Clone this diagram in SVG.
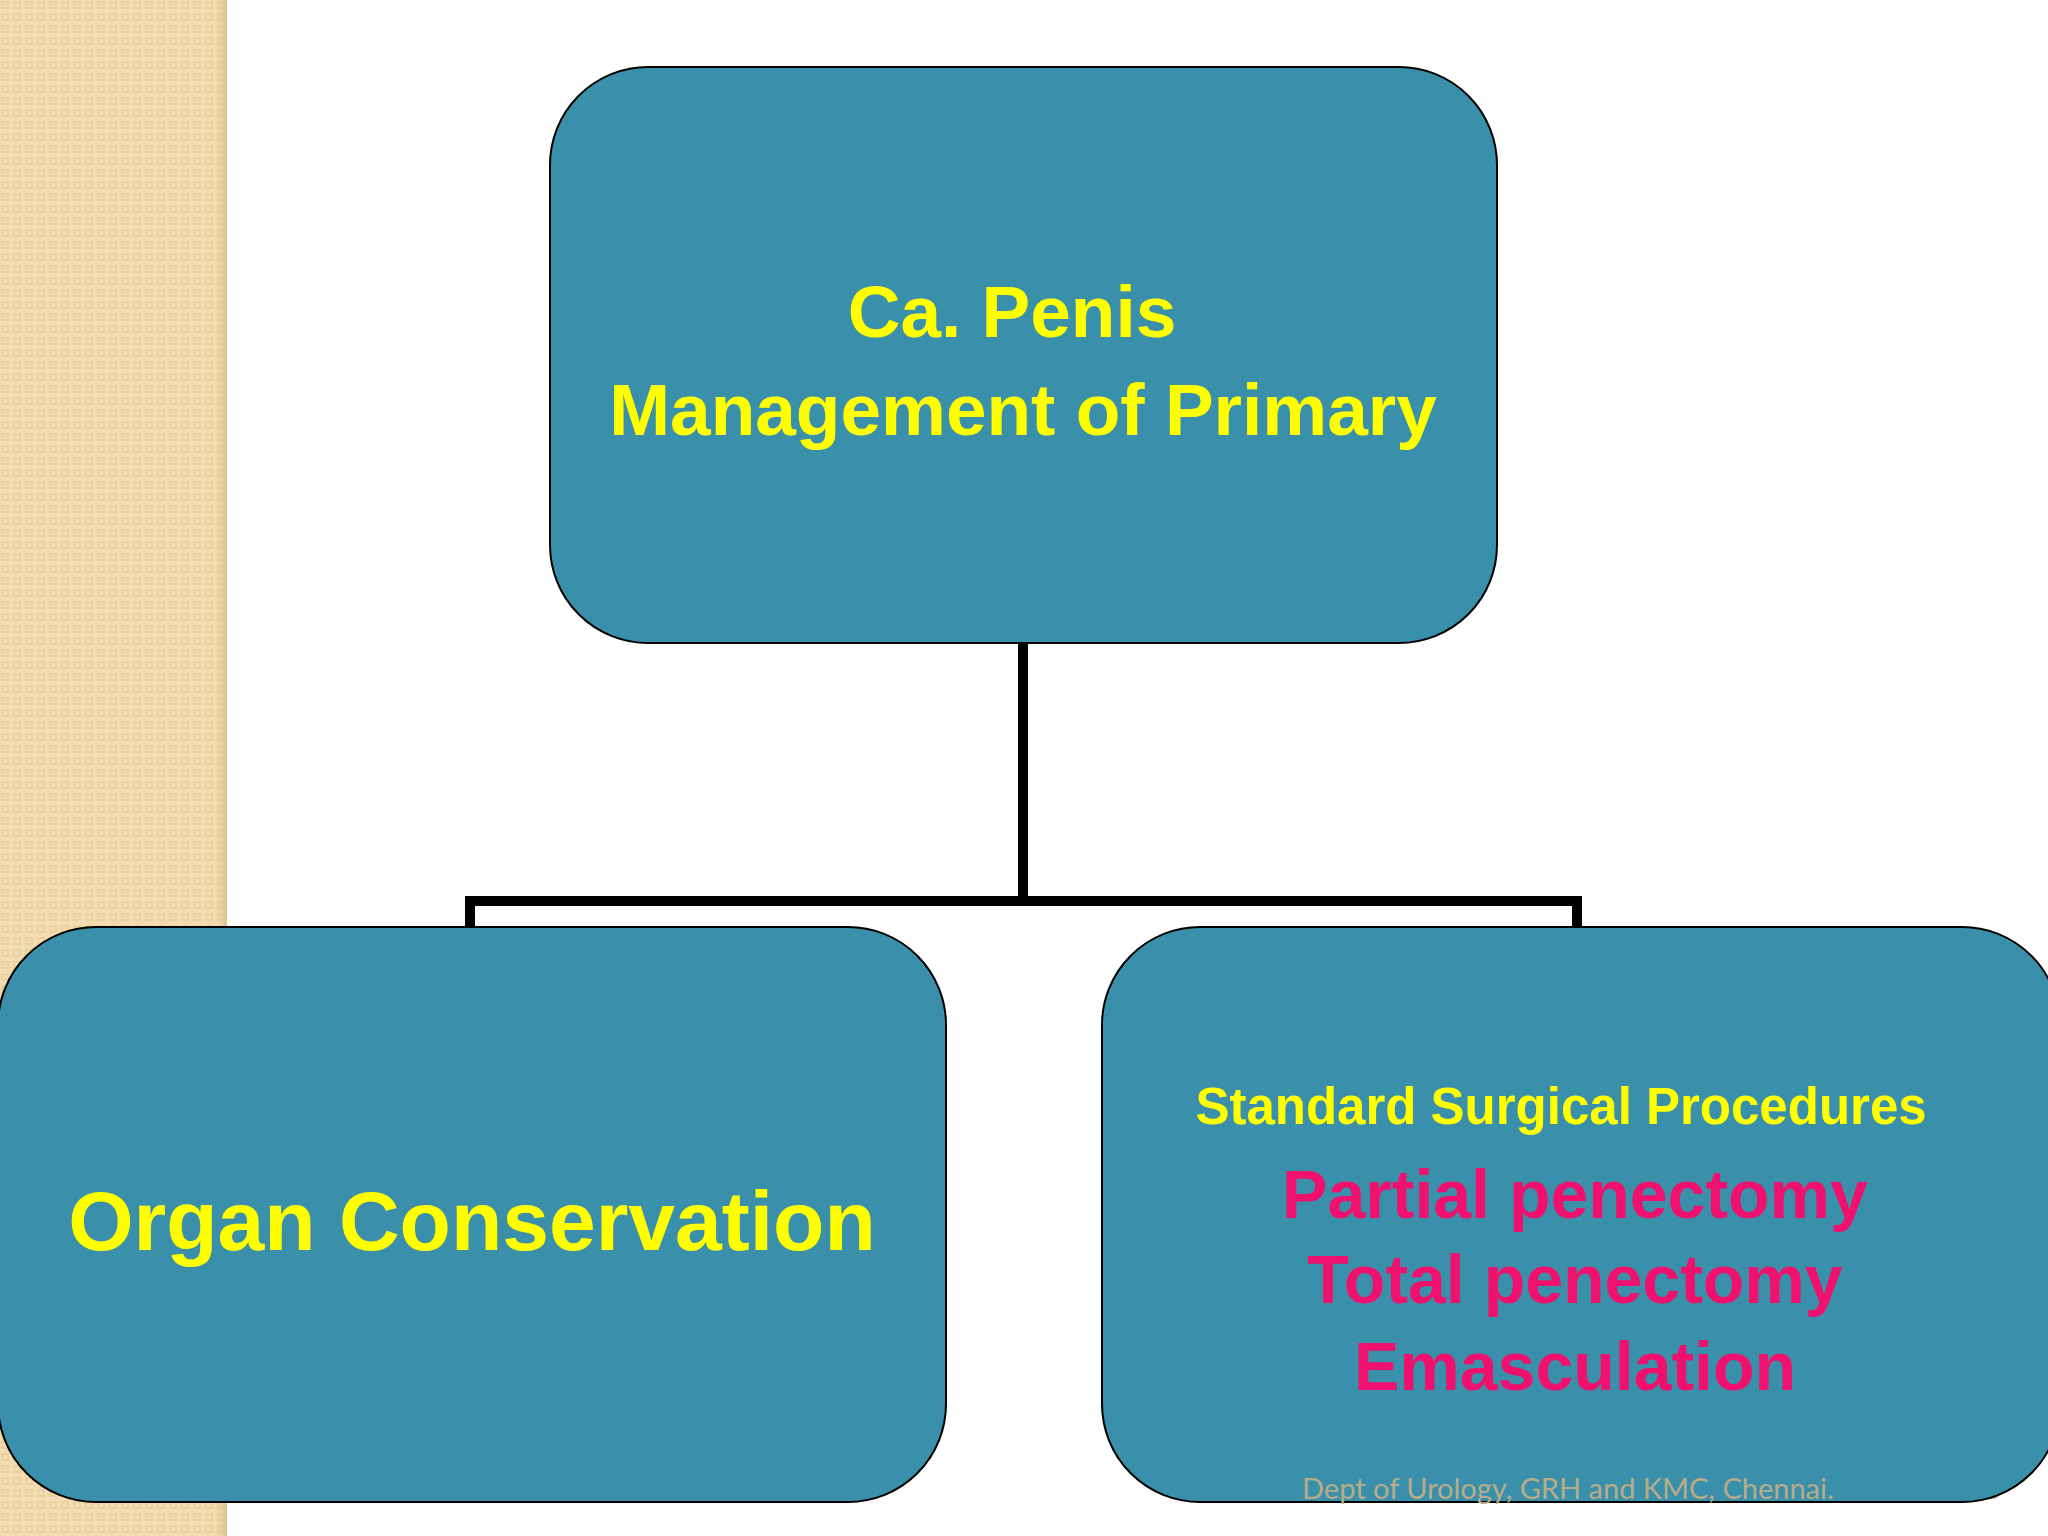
<svg xmlns="http://www.w3.org/2000/svg" width="2048" height="1536" viewBox="0 0 2048 1536">
<defs>
<pattern id="pt" width="12" height="12" patternUnits="userSpaceOnUse">
<rect width="12" height="12" fill="#F3DDB0"/>
<rect x="2" y="2" width="6" height="6" fill="none" stroke="#E6CC9A" stroke-width="1.5"/>
</pattern>
<linearGradient id="sh" x1="0" x2="1"><stop offset="0" stop-color="#E8D2A4" stop-opacity="0"/><stop offset="1" stop-color="#D8C290"/></linearGradient>
</defs>
<style>
.box{fill:#3A90AA;stroke:#000;stroke-width:2}
.t{font-family:"Liberation Sans",Arial,sans-serif;font-weight:bold;text-anchor:middle}
.y{fill:#FFFF00}
.p{fill:#F0106E}
</style>
<rect width="2048" height="1536" fill="#fff"/>
<rect width="227" height="1536" fill="url(#pt)"/>
<rect x="215" width="12" height="1536" fill="url(#sh)"/>
<text x="1985" y="1499" font-family="Lato,sans-serif" font-size="29" fill="#B8AC88">5</text>
<g id="connectors" fill="none" stroke="#000" stroke-width="10">
<path d="M1023 643V901M470 927V901H1577V927"/>
</g>
<g id="root">
<rect class="box" x="550" y="67" width="947" height="576" rx="98"/>
<text class="t y" x="1012" y="337" font-size="73">Ca. Penis</text>
<text class="t y" x="1023" y="435" font-size="73">Management of Primary</text>
</g>
<g id="organ">
<rect class="box" x="-2" y="927" width="948" height="575" rx="98"/>
<text class="t y" x="472" y="1250" font-size="84">Organ Conservation</text>
</g>
<g id="standard">
<rect class="box" x="1102" y="927" width="958" height="575" rx="98"/>
<text class="t y" x="1561" y="1124" font-size="51">Standard Surgical Procedures</text>
<text class="t p" x="1575" y="1218" font-size="68">Partial penectomy</text>
<text class="t p" x="1575" y="1303" font-size="68">Total penectomy</text>
<text class="t p" x="1575" y="1390" font-size="68">Emasculation</text>
</g>
<text x="1302" y="1499" font-family="Lato,sans-serif" font-size="29" fill="#B8AC88">Dept of Urology, GRH and KMC, Chennai.</text>
</svg>
